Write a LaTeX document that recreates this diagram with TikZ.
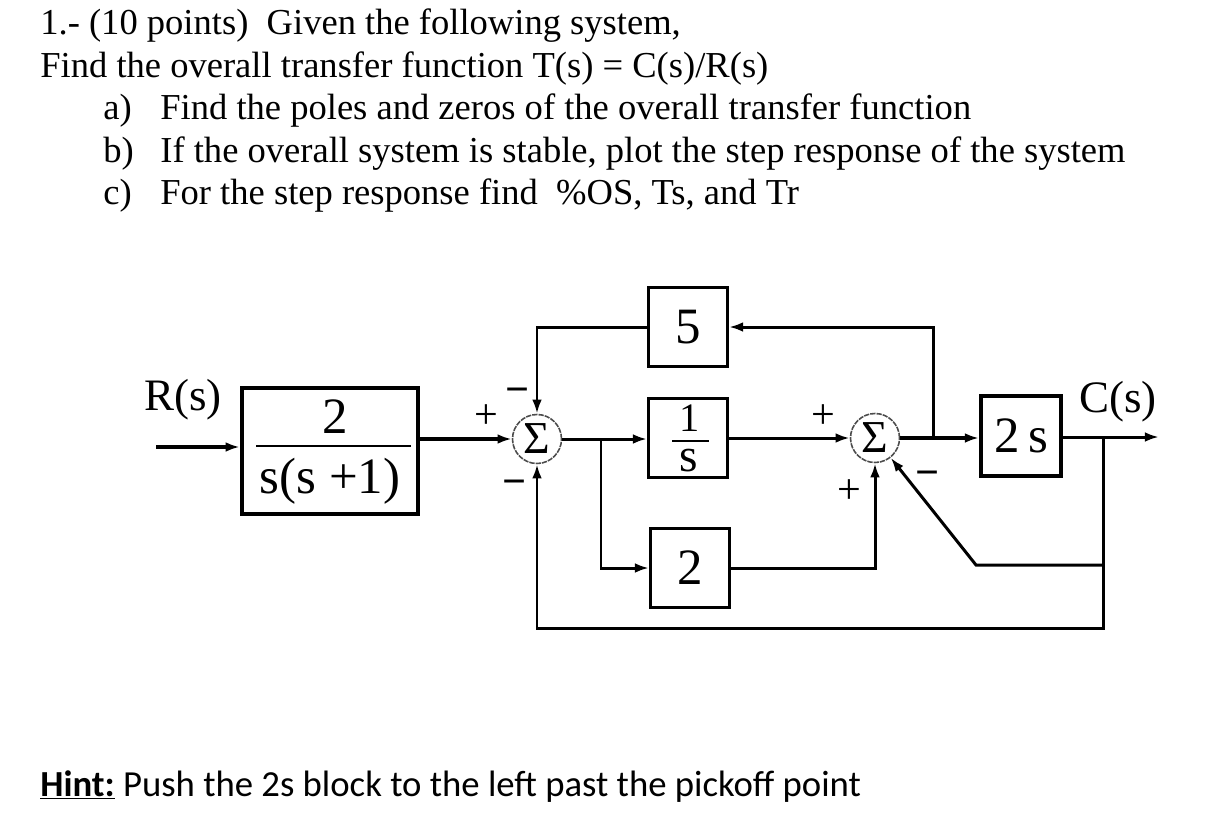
\documentclass[tikz,border=0pt]{standalone}
\usepackage{fontspec}
\setmainfont{Liberation Serif}
\newfontfamily\hintfont{Carlito}
\usetikzlibrary{arrows.meta}
\newcommand{\bigtxt}[2]{\scalebox{#1}{\fontsize{20}{20}\selectfont #2}}
\tikzset{blk/.style={draw,line width=1.7pt,minimum width=1.58cm,minimum height=1.58cm,inner sep=0pt},
         blkthick/.style={draw,line width=2.6pt,inner sep=0pt},
         sumnode/.style={circle,draw=black!70,line width=0.9pt,dash pattern=on 3pt off 0.6pt,minimum size=0.98cm,inner sep=0pt},
         sig/.style={line width=1.7pt,-{Latex[length=8pt,width=5.5pt]}},
         wire/.style={line width=1.7pt},
         sgn/.style={inner sep=0pt},
         qline/.style={anchor=base west,inner sep=0pt,font=\fontsize{20.8}{25}\selectfont}}

\begin{document}
\begin{tikzpicture}[x=0.02cm,y=-0.02cm]
                  \useasboundingbox (0,0) rectangle (1214,812);
                  % question text
                  \node[qline] (q1) at (40,34) {1.- (10 points)\ \ Given the following system,};
                  \node[qline] (q2) at (40,77) {Find the overall transfer function T(s) = C(s)/R(s)};
                  \node[qline] (qa) at (103,119) {a)};
                  \node[qline] (qat) at (160,119) {Find the poles and zeros of the overall transfer function};
                  \node[qline] (qb) at (103,162) {b)};
                  \node[qline] (qbt) at (160,162) {If the overall system is stable, plot the step response of the system};
                  \node[qline] (qc) at (103,204) {c)};
                  \node[qline] (qct) at (160,204) {For the step response find\ \ \%OS, Ts, and Tr};
                  \node[anchor=base west,inner sep=0pt,font=\hintfont\fontsize{20.9}{24}\selectfont] (hint) at (40,796) {\textbf{\underline{Hint:}} Push the 2s block to the left past the pickoff point};

                  % blocks
                  \node[blkthick,minimum width=3.52cm,minimum height=2.52cm] (g1) at (330,451) {};
                  \node[inner sep=0pt] (g1num) at (335,417) {\bigtxt{1.45}{2}};
                  \draw[line width=1.6pt] (256,446) -- (411,446);
                  \node[inner sep=0pt] (g1den) at (330,481) {\bigtxt{1.45}{s(s +1)}};
                  \node[blk] (k5) at (688,327) {\bigtxt{1.45}{5}};
                  \node[blk] (int) at (688,438) {};
                  \node[inner sep=0pt] (intnum) at (690,418) {\bigtxt{1.15}{1}};
                  \draw[line width=1.5pt] (672,441) -- (709,441);
                  \node[inner sep=0pt] (intden) at (689,461) {\bigtxt{1.35}{s}};
                  \node[blk] (k2) at (690,568) {\bigtxt{1.45}{2}};
                  \node[blkthick,line width=2.3pt,minimum size=1.6cm] (d2s) at (1021,436) {\bigtxt{1.45}{2\,s}};
                  \node[sumnode] (s1) at (537,439) {\bigtxt{1.3}{Σ}};
                  \node[sumnode] (s2) at (875,438) {\bigtxt{1.3}{Σ}};

                  % labels
                  \node (rlab) at (183,400) {\bigtxt{1.28}{R(s)}};
                  \node (clab) at (1118,402) {\bigtxt{1.28}{C(s)}};
                  \node[sgn] (p1) at (486,417) {\bigtxt{1.2}{+}};
                  \node[sgn] (m1) at (518,396) {\bigtxt{1.2}{\textbf{−}}};
                  \node[sgn] (m2) at (515,488) {\bigtxt{1.2}{\textbf{−}}};
                  \node[sgn] (p2) at (823,417) {\bigtxt{1.2}{+}};
                  \node[sgn] (p3) at (849,492) {\bigtxt{1.2}{+}};
                  \node[sgn] (m3) at (928,479) {\bigtxt{1.2}{\textbf{−}}};

                  % points on the lines
                  \coordinate (rin) at (156,447);
                  \coordinate (br) at (601,439);
                  \coordinate (po1) at (933,438);
                  \coordinate (po2) at (1103,437);
                  \coordinate (cout) at (1159,437);
                  \coordinate (cmid) at (1103,565);
                  \coordinate (dk) at (976,565);
                  \coordinate (cbot) at (1103,628);

                  % connectors
                  \draw[sig,line width=2.3pt] (rin) -- (rin -| g1.west);
                  \draw[sig,line width=2.3pt] (g1.east |- s1) -- (s1.west);
                  \draw[sig] (s1.east) -- (s1.east -| int.west);
                  \draw[sig] (br) |- (k2.west);
                  \draw[sig] (int.east |- s2) -- (s2.west);
                  \draw[sig] (k2.east) -| (s2.south);
                  \draw[sig,line width=2.3pt] (s2.east) -- (s2.east -| d2s.west);
                  \draw[sig] (po1) |- (k5.east);
                  \draw[sig] (k5.west) -| (s1.north);
                  \draw[sig] (d2s.east |- po2) -- (cout);
                  \draw[sig] (po2) -- (cbot) -| (s1.south);
                  \draw[sig] (cmid) -- (dk) -- (s2);
              \end{tikzpicture}
\end{document}
